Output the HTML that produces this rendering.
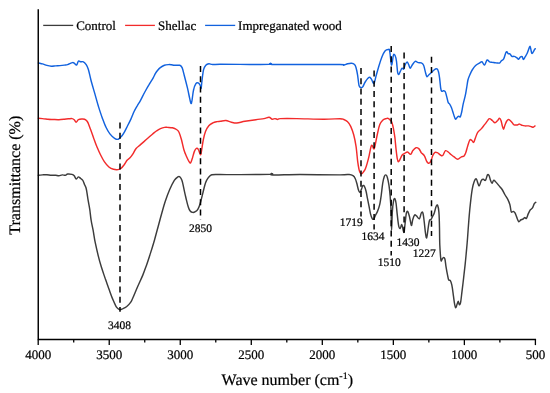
<!DOCTYPE html>
<html><head><meta charset="utf-8"><title>FTIR spectra</title>
<style>
html,body{margin:0;padding:0;background:#fff;}
body{width:550px;height:393px;overflow:hidden;}
svg{display:block;}
text{font-family:"Liberation Serif","Times New Roman",serif;fill:#000;stroke:#000;stroke-width:0.22px;text-rendering:geometricPrecision;}
</style></head><body>
<svg width="550" height="393" viewBox="0 0 550 393">
<rect width="550" height="393" fill="#fff"/>
<g fill="none" stroke-linejoin="round" stroke-linecap="round" stroke-width="1.45">
<path stroke="#1262de" d="M38.4 62.9C39.1 63.1 41.1 63.5 42.5 63.9C43.9 64.3 45.4 65.0 46.9 65.4C48.4 65.8 49.8 66.1 51.3 66.2C52.8 66.3 54.1 66.0 55.6 65.9C57.1 65.8 58.5 65.7 60.0 65.6C61.5 65.5 63.1 65.3 64.4 65.1C65.7 64.9 66.2 65.0 67.6 64.6C68.9 64.2 71.4 62.8 72.5 62.6C73.6 62.4 73.5 62.8 74.2 63.2C74.9 63.6 75.9 65.4 76.6 65.0C77.3 64.6 77.8 61.5 78.5 61.0C79.2 60.5 79.9 61.7 80.7 61.8C81.5 61.9 82.5 61.3 83.4 61.8C84.3 62.3 85.4 63.4 86.2 64.6C87.0 65.8 87.5 66.7 88.3 69.2C89.1 71.7 89.8 75.5 90.8 79.5C91.8 83.5 93.3 88.4 94.6 92.9C95.9 97.4 97.1 102.2 98.4 106.3C99.7 110.4 100.9 114.2 102.2 117.7C103.5 121.2 104.7 124.6 106.0 127.3C107.3 130.0 108.5 132.1 109.9 133.9C111.3 135.7 113.2 137.4 114.6 138.3C116.0 139.2 117.1 139.6 118.2 139.3C119.3 139.0 120.4 137.7 121.4 136.4C122.5 135.2 123.5 133.6 124.5 131.8C125.5 130.0 126.6 127.6 127.7 125.5C128.8 123.4 129.8 121.4 130.9 119.1C132.0 116.8 133.1 113.7 134.1 111.5C135.1 109.3 136.1 107.6 137.2 105.8C138.2 104.0 139.1 103.1 140.4 100.7C141.7 98.3 143.6 94.2 145.1 91.5C146.6 88.8 147.8 86.7 149.2 84.4C150.5 82.1 152.2 79.6 153.2 77.8C154.2 76.0 154.6 74.9 155.3 73.7C156.0 72.5 156.5 71.7 157.3 70.7C158.1 69.7 159.1 68.5 160.3 67.6C161.5 66.7 163.0 65.8 164.4 65.3C165.8 64.8 167.3 64.7 168.5 64.6C169.7 64.5 170.4 64.6 171.4 64.7C172.4 64.8 173.1 65.2 174.5 65.3C175.9 65.4 178.5 64.9 179.8 65.3C181.1 65.7 181.3 65.8 182.1 67.6C182.9 69.4 183.5 72.6 184.4 76.0C185.3 79.4 186.6 84.4 187.5 88.2C188.4 92.0 189.2 96.4 189.8 98.9C190.4 101.5 190.6 103.2 191.0 103.5C191.4 103.8 191.6 102.8 192.0 100.5C192.4 98.2 192.9 92.6 193.6 89.8C194.2 87.0 195.1 84.8 195.9 83.6C196.7 82.4 197.4 82.5 198.2 82.9C199.0 83.3 200.0 85.0 200.5 85.9C201.0 86.8 200.9 89.1 201.2 88.2C201.4 87.3 201.6 83.6 202.0 80.6C202.4 77.5 202.9 72.5 203.5 69.9C204.1 67.4 204.9 66.3 205.8 65.3C206.7 64.3 207.8 63.9 208.9 63.8C210.1 63.7 210.8 64.4 212.7 64.5C214.5 64.6 215.4 64.3 220.0 64.3C224.6 64.3 231.8 64.4 240.0 64.4C248.2 64.4 263.9 64.6 269.0 64.4C274.1 64.2 270.0 63.2 270.5 63.2C271.0 63.2 267.1 64.3 272.0 64.5C276.9 64.7 288.7 64.4 300.0 64.4C311.3 64.4 332.7 64.4 340.0 64.5C347.3 64.6 342.5 65.3 343.8 65.2C345.1 65.1 346.3 64.0 347.6 63.7C348.9 63.4 350.4 63.1 351.5 63.2C352.6 63.3 353.8 63.7 354.5 64.4C355.2 65.1 355.5 65.7 356.0 67.5C356.5 69.3 357.1 72.0 357.6 75.1C358.1 78.1 358.5 83.7 359.1 85.8C359.7 87.9 360.8 87.5 361.4 87.6C362.0 87.7 362.3 87.5 362.9 86.6C363.5 85.7 364.2 83.5 365.2 82.0C366.2 80.5 368.0 77.9 369.0 77.4C370.0 76.9 370.5 77.9 371.3 78.9C372.1 79.9 373.1 83.9 373.9 83.5C374.7 83.1 375.1 79.5 375.9 76.6C376.7 73.7 377.9 69.3 378.9 66.0C379.9 62.7 381.0 59.3 382.0 56.8C383.0 54.3 384.0 52.2 385.0 51.0C386.0 49.8 387.3 49.5 388.1 49.5C388.9 49.5 389.1 48.5 389.6 50.7C390.1 52.9 390.7 60.6 391.1 62.9C391.5 65.2 391.5 65.7 391.9 64.4C392.3 63.1 392.9 56.8 393.4 55.3C393.9 53.8 394.5 54.3 395.0 55.3C395.5 56.3 396.1 58.6 396.5 61.4C396.9 64.2 397.2 69.9 397.6 72.1C398.0 74.3 398.4 74.7 398.9 74.4C399.4 74.1 400.1 71.5 400.7 70.5C401.2 69.5 401.7 68.5 402.2 68.2C402.7 68.0 403.2 69.6 403.7 69.0C404.2 68.4 404.7 65.6 405.3 64.4C405.9 63.3 406.6 62.1 407.1 62.1C407.7 62.1 408.1 63.4 408.6 64.4C409.1 65.4 409.6 68.1 410.2 68.2C410.8 68.3 411.3 66.3 412.1 65.2C412.9 64.1 414.2 61.8 415.2 61.4C416.2 61.0 417.2 62.4 418.2 62.6C419.2 62.9 420.4 62.5 421.3 62.9C422.2 63.3 422.9 63.7 423.6 65.2C424.3 66.7 424.8 70.2 425.4 72.1C425.9 74.0 426.3 76.1 426.9 76.6C427.5 77.0 428.2 75.4 428.9 74.8C429.6 74.2 430.4 73.5 431.2 72.8C432.0 72.1 432.6 71.2 433.5 70.5C434.4 69.8 435.5 68.7 436.3 68.7C437.1 68.7 437.6 68.9 438.1 70.5C438.7 72.1 439.2 75.2 439.6 78.2C440.0 81.2 440.4 86.0 440.7 88.2C441.0 90.4 441.2 90.9 441.7 91.3C442.2 91.7 442.9 90.6 443.5 90.7C444.1 90.8 444.8 90.7 445.3 91.7C445.8 92.7 446.2 94.8 446.7 96.6C447.2 98.3 447.6 100.9 448.1 102.2C448.6 103.5 449.2 103.4 449.8 104.3C450.4 105.2 450.9 106.3 451.5 107.8C452.1 109.3 452.8 111.8 453.3 113.4C453.8 115.0 454.3 116.6 454.7 117.6C455.1 118.6 455.2 119.3 455.7 119.2C456.2 119.1 457.0 117.4 457.5 116.9C458.0 116.4 458.4 116.2 458.9 116.2C459.4 116.2 459.8 117.6 460.3 116.9C460.8 116.2 461.2 114.1 461.7 112.0C462.2 109.9 462.5 107.0 463.1 104.3C463.7 101.6 464.6 98.6 465.2 95.9C465.8 93.2 466.1 90.9 466.6 88.2C467.1 85.5 467.4 82.1 468.0 79.8C468.6 77.5 469.4 75.8 470.1 74.2C470.8 72.6 471.3 71.4 472.2 70.0C473.1 68.6 474.4 66.8 475.6 65.6C476.8 64.4 478.3 63.7 479.4 63.1C480.5 62.5 481.1 61.5 482.0 61.8C482.9 62.1 483.6 65.4 484.5 65.1C485.4 64.8 486.2 60.5 487.1 60.0C488.0 59.5 488.8 61.4 489.6 61.8C490.4 62.2 491.1 62.1 492.0 62.3C492.9 62.4 494.2 62.6 495.1 62.7C496.0 62.8 496.3 63.0 497.1 63.0C497.9 63.0 499.0 63.3 499.7 63.0C500.4 62.7 500.5 61.7 501.2 61.0C501.9 60.3 502.8 60.4 503.7 58.9C504.6 57.4 505.5 52.6 506.3 51.8C507.1 50.9 507.7 53.5 508.3 53.8C508.9 54.1 509.3 53.4 509.9 53.8C510.5 54.2 511.1 56.0 511.9 56.4C512.6 56.8 513.5 56.1 514.4 56.4C515.2 56.6 516.3 57.4 517.0 57.9C517.7 58.4 517.9 59.4 518.5 59.2C519.1 59.0 519.9 57.3 520.5 56.9C521.1 56.5 521.6 56.2 522.1 56.6C522.6 57.0 522.9 59.4 523.4 59.4C523.9 59.4 524.5 57.9 525.1 56.9C525.7 55.9 526.4 55.0 527.2 53.3C528.0 51.6 529.2 47.6 529.7 46.7C530.2 45.8 530.1 46.6 530.5 47.7C530.9 48.8 531.3 52.6 531.8 53.3C532.3 54.0 532.8 52.5 533.3 51.8C533.8 51.1 534.5 49.6 534.8 49.1C535.1 48.6 535.2 48.8 535.3 48.7"/>
<path stroke="#f22b2b" d="M38.4 118.3C39.1 118.3 40.9 118.4 42.5 118.6C44.1 118.8 46.2 119.0 48.0 119.2C49.8 119.4 51.6 119.4 53.4 119.5C55.2 119.6 57.1 119.8 58.9 119.7C60.7 119.7 62.8 119.4 64.4 119.2C66.0 119.0 67.4 118.9 68.7 118.8C70.0 118.7 71.1 118.4 72.0 118.6C72.9 118.8 73.5 119.1 74.2 119.7C74.9 120.3 75.4 122.2 76.1 122.2C76.8 122.2 77.5 120.2 78.5 119.7C79.5 119.2 80.8 119.1 81.8 119.0C82.8 118.9 83.7 118.9 84.5 119.2C85.3 119.5 86.1 120.1 86.7 120.8C87.3 121.5 87.7 122.0 88.3 123.4C88.9 124.9 89.7 127.1 90.6 129.5C91.5 131.9 92.6 135.1 93.6 137.9C94.6 140.7 95.5 143.5 96.7 146.3C97.9 149.1 99.2 152.2 100.5 154.8C101.8 157.4 102.9 159.6 104.3 161.6C105.7 163.6 107.4 165.7 108.9 167.0C110.4 168.3 112.0 168.9 113.5 169.3C115.0 169.7 116.8 169.8 118.1 169.6C119.4 169.4 120.2 169.0 121.2 168.2C122.2 167.4 123.2 166.0 124.2 164.7C125.2 163.3 126.3 161.2 127.3 160.1C128.3 158.9 129.0 158.9 130.0 157.8C131.0 156.7 132.1 155.2 133.1 153.6C134.1 152.0 134.9 149.9 136.1 148.5C137.3 147.1 138.8 146.1 140.2 144.9C141.5 143.7 142.8 142.6 144.2 141.4C145.5 140.2 146.9 139.0 148.3 137.8C149.7 136.6 151.1 135.3 152.4 134.2C153.8 133.1 155.1 131.9 156.4 131.0C157.8 130.1 159.1 129.2 160.5 128.6C161.9 128.0 163.4 127.6 164.6 127.4C165.8 127.2 166.1 127.3 167.4 127.4C168.7 127.5 170.9 127.5 172.4 127.8C173.9 128.2 175.4 128.8 176.5 129.5C177.6 130.2 178.2 130.6 179.0 132.3C179.8 134.0 180.7 136.9 181.5 139.8C182.3 142.7 183.1 146.9 183.9 149.7C184.7 152.4 185.6 154.4 186.4 156.3C187.2 158.2 188.2 160.2 188.9 161.3C189.6 162.4 190.1 163.3 190.6 162.9C191.1 162.5 191.6 160.7 192.2 158.8C192.8 156.9 193.7 153.1 194.4 151.4C195.1 149.7 195.8 148.7 196.4 148.4C197.1 148.1 197.8 148.6 198.3 149.4C198.9 150.2 199.3 152.1 199.7 153.0C200.1 153.9 200.4 155.2 200.7 154.7C201.0 154.1 201.3 152.2 201.7 149.7C202.1 147.2 202.7 142.8 203.3 139.8C203.9 136.8 204.6 133.8 205.5 131.5C206.4 129.2 207.6 127.1 208.8 125.7C210.0 124.3 211.5 123.6 212.9 122.9C214.3 122.2 215.8 121.9 217.0 121.6C218.2 121.3 218.9 121.5 220.4 121.3C221.9 121.1 224.1 120.3 225.9 120.5C227.7 120.7 229.5 121.8 231.3 122.2C233.1 122.6 234.5 123.2 236.8 123.0C239.1 122.8 241.8 121.8 245.0 121.3C248.2 120.8 252.7 120.2 255.9 119.7C259.1 119.2 261.8 119.0 264.0 118.6C266.2 118.2 267.6 117.2 269.0 117.3C270.4 117.4 271.2 119.0 272.2 119.2C273.2 119.4 274.1 118.6 275.0 118.6C275.9 118.6 276.8 119.4 277.7 119.4C278.6 119.4 277.2 118.7 280.4 118.6C283.6 118.5 289.4 118.5 296.7 118.6C304.0 118.7 316.8 119.2 324.0 119.2C331.2 119.2 336.7 118.7 340.0 118.7C343.3 118.8 342.5 119.0 343.8 119.5C345.1 120.0 346.5 120.6 347.6 121.8C348.8 123.0 349.7 124.2 350.7 126.4C351.7 128.6 352.8 131.5 353.7 134.8C354.6 138.1 355.3 141.7 356.0 146.2C356.7 150.7 357.2 157.8 357.7 161.7C358.2 165.5 358.6 167.4 359.0 169.3C359.4 171.2 359.9 172.2 360.3 172.9C360.7 173.7 361.1 174.0 361.6 173.8C362.1 173.6 362.9 172.7 363.5 171.8C364.1 171.0 364.8 170.2 365.4 168.7C366.0 167.2 366.7 165.1 367.3 162.9C367.9 160.7 368.6 158.1 369.2 155.3C369.8 152.6 370.6 148.0 371.1 146.4C371.6 144.8 372.0 145.3 372.4 145.7C372.8 146.1 373.3 148.8 373.7 148.9C374.1 149.0 374.3 148.9 374.9 146.4C375.5 143.9 376.6 137.6 377.4 134.0C378.2 130.4 378.8 127.1 379.7 124.8C380.6 122.5 381.7 121.3 382.7 120.3C383.7 119.3 384.9 119.0 385.8 118.7C386.7 118.4 387.3 118.1 388.1 118.4C388.9 118.7 389.8 119.7 390.4 120.3C391.0 120.9 391.3 120.9 391.8 122.2C392.3 123.5 392.9 125.8 393.4 128.3C393.9 130.9 394.4 133.9 394.9 137.5C395.3 141.1 395.7 146.1 396.1 149.7C396.5 153.3 396.9 156.9 397.3 158.9C397.7 160.9 398.0 161.8 398.4 161.9C398.8 162.0 399.3 160.8 399.9 159.6C400.5 158.4 401.4 156.0 402.2 155.0C403.0 154.0 403.6 154.0 404.5 153.5C405.4 153.0 406.6 151.9 407.6 152.0C408.6 152.1 409.7 154.6 410.6 154.3C411.5 154.1 412.0 151.6 412.9 150.5C413.8 149.4 415.0 148.0 416.0 147.7C417.0 147.4 418.1 148.1 419.0 148.9C419.9 149.7 420.4 151.5 421.3 152.7C422.2 153.8 423.5 154.4 424.4 155.8C425.3 157.2 426.0 159.9 426.6 161.1C427.2 162.3 427.7 162.8 428.2 163.1C428.7 163.4 429.2 163.1 429.7 162.7C430.2 162.2 430.7 161.6 431.2 160.4C431.7 159.2 432.1 157.1 432.7 155.8C433.3 154.5 434.2 152.9 435.0 152.4C435.8 151.9 436.4 152.3 437.3 152.7C438.2 153.1 439.5 154.5 440.4 155.0C441.3 155.5 441.8 156.2 442.7 155.5C443.6 154.8 444.5 151.2 445.5 150.7C446.5 150.2 448.0 151.9 448.8 152.5C449.6 153.1 449.6 153.4 450.5 154.1C451.4 154.8 452.9 156.0 454.1 156.8C455.3 157.7 456.5 159.2 457.7 159.2C458.9 159.2 460.3 157.4 461.4 156.8C462.5 156.2 463.4 156.7 464.1 155.9C464.9 155.2 465.3 154.0 465.9 152.3C466.5 150.6 467.0 148.0 467.7 145.9C468.4 143.8 469.2 140.8 469.9 139.9C470.6 139.0 471.3 140.1 471.9 140.5C472.5 140.9 473.1 142.8 473.7 142.3C474.3 141.8 474.8 139.4 475.5 137.7C476.2 136.0 476.7 133.8 477.7 132.3C478.7 130.8 480.2 130.0 481.4 128.6C482.6 127.2 483.9 125.4 485.0 124.1C486.1 122.8 486.9 121.4 487.7 120.5C488.4 119.6 488.7 118.6 489.5 118.6C490.3 118.6 491.4 119.8 492.3 120.5C493.2 121.2 494.1 122.8 495.0 122.8C495.9 122.8 496.9 121.2 497.7 120.5C498.4 119.8 498.9 118.3 499.5 118.3C500.1 118.3 500.5 119.2 501.0 120.5C501.5 121.8 501.9 124.5 502.3 125.9C502.7 127.4 503.1 129.3 503.5 129.2C503.9 129.0 504.4 126.4 505.0 125.0C505.6 123.6 506.2 121.9 506.8 121.0C507.4 120.1 507.8 119.4 508.6 119.5C509.4 119.6 510.5 120.9 511.4 121.7C512.2 122.5 512.8 124.0 513.7 124.6C514.6 125.1 515.8 125.1 516.8 125.0C517.8 124.9 518.6 124.0 519.5 124.1C520.4 124.2 521.4 125.1 522.3 125.4C523.2 125.7 524.0 125.8 525.0 125.9C526.0 126.0 527.5 125.8 528.6 125.9C529.7 126.1 530.6 126.6 531.4 126.8C532.2 127.0 532.6 127.3 533.2 127.2C533.8 127.1 534.7 126.1 535.0 125.9"/>
<path stroke="#3c3c3c" d="M38.4 175.3C39.1 175.2 41.1 175.0 42.5 174.9C43.9 174.8 45.4 174.6 46.9 174.7C48.4 174.8 49.8 175.2 51.3 175.3C52.8 175.4 54.3 175.2 55.6 175.3C56.9 175.4 57.8 175.9 58.9 175.8C60.0 175.7 61.1 175.0 62.2 174.9C63.3 174.8 64.5 175.5 65.4 175.3C66.3 175.2 66.5 174.2 67.6 174.0C68.7 173.8 70.9 174.1 72.0 174.4C73.1 174.7 73.5 175.0 74.2 175.8C74.9 176.6 75.6 178.9 76.3 179.1C77.0 179.3 77.6 177.0 78.3 176.9C79.0 176.8 79.9 177.9 80.7 178.5C81.5 179.1 82.3 179.5 82.9 180.5C83.5 181.5 84.0 183.3 84.5 184.5C85.0 185.7 85.5 186.1 86.0 187.8C86.5 189.5 87.0 192.8 87.3 194.9C87.6 197.0 87.7 197.8 88.1 200.2C88.5 202.6 89.3 206.3 89.8 209.6C90.3 212.9 90.5 216.6 91.1 220.0C91.6 223.4 92.4 226.5 93.1 230.2C93.8 233.9 94.3 238.2 95.2 242.4C96.1 246.6 97.2 251.5 98.2 255.6C99.2 259.7 100.1 262.9 101.3 266.8C102.5 270.7 104.1 275.2 105.4 279.1C106.8 283.0 108.2 287.1 109.4 290.3C110.6 293.6 111.3 295.9 112.5 298.6C113.7 301.4 115.1 305.0 116.3 306.8C117.5 308.6 118.4 309.1 119.4 309.5C120.4 309.9 121.2 309.3 122.4 308.9C123.6 308.4 125.1 307.9 126.5 306.8C127.9 305.7 129.6 303.8 130.6 302.4C131.6 301.0 131.4 301.1 132.6 298.5C133.8 295.9 136.0 290.4 137.7 286.5C139.4 282.6 141.3 278.7 142.8 275.1C144.3 271.5 145.3 268.5 146.6 264.9C147.9 261.3 149.1 257.4 150.4 253.4C151.7 249.4 153.0 245.1 154.3 240.7C155.6 236.2 156.8 231.4 158.1 226.7C159.4 222.0 160.7 216.9 161.9 212.7C163.1 208.5 163.9 205.4 165.2 201.5C166.5 197.6 168.2 193.0 169.7 189.5C171.2 186.0 173.0 182.4 174.3 180.3C175.7 178.2 176.9 177.5 177.8 176.9C178.8 176.3 179.3 176.4 180.0 177.0C180.7 177.6 181.4 178.8 181.9 180.2C182.4 181.6 182.8 183.4 183.2 185.3C183.6 187.2 184.0 189.2 184.5 191.6C185.0 194.0 185.8 197.3 186.4 199.9C187.0 202.5 187.7 205.1 188.3 206.9C188.9 208.8 189.5 210.1 190.2 211.0C190.9 211.9 191.8 212.3 192.7 212.4C193.5 212.5 194.5 212.2 195.3 211.7C196.2 211.2 197.1 210.5 197.8 209.4C198.5 208.3 199.2 206.5 199.7 205.0C200.2 203.5 200.5 202.5 201.0 200.5C201.5 198.5 202.3 195.4 202.9 192.9C203.5 190.4 204.2 187.4 204.8 185.3C205.4 183.2 205.9 181.7 206.7 180.2C207.4 178.7 208.5 177.3 209.3 176.4C210.2 175.5 210.8 175.1 211.8 174.8C212.9 174.5 213.1 174.4 215.6 174.4C218.1 174.4 222.6 174.6 226.7 174.6C230.8 174.6 232.8 174.6 240.0 174.6C247.2 174.6 264.8 174.6 270.0 174.4C275.2 174.2 271.0 173.3 271.5 173.4C272.0 173.5 268.2 174.8 273.0 175.0C277.8 175.2 288.8 174.5 300.0 174.5C311.2 174.5 331.8 174.9 340.0 174.9C348.2 174.9 347.0 174.4 349.2 174.5C351.4 174.6 352.0 175.0 353.0 175.7C354.0 176.4 354.7 177.4 355.3 178.7C355.9 180.0 356.3 181.5 356.8 183.3C357.3 185.1 357.8 187.9 358.3 189.4C358.8 190.9 359.3 192.5 359.8 192.5C360.3 192.5 360.9 190.6 361.4 189.4C361.9 188.2 362.4 186.1 362.9 185.6C363.4 185.1 363.9 185.5 364.4 186.4C364.9 187.3 365.5 189.0 366.0 191.0C366.5 193.0 367.0 196.1 367.5 198.6C368.0 201.1 368.5 203.6 369.0 206.2C369.5 208.8 370.0 211.9 370.5 213.9C371.0 215.9 371.6 217.5 372.1 218.4C372.6 219.3 373.1 219.6 373.6 219.2C374.1 218.8 374.5 217.4 375.1 216.1C375.7 214.8 376.6 213.5 377.4 211.6C378.2 209.7 379.1 207.4 379.7 204.7C380.3 202.0 380.7 199.1 381.2 195.5C381.7 191.9 382.2 186.5 382.7 183.3C383.2 180.1 383.8 177.9 384.3 176.5C384.8 175.1 385.3 174.8 385.8 174.9C386.3 175.0 386.8 175.5 387.3 177.2C387.8 178.8 388.4 181.8 388.9 184.8C389.4 187.9 389.7 191.0 390.1 195.5C390.5 200.0 390.9 206.2 391.1 212.0C391.4 217.8 391.4 230.0 391.6 230.0C391.8 230.0 392.0 217.0 392.3 212.1C392.6 207.2 393.2 202.8 393.6 200.6C394.0 198.4 394.5 198.2 394.9 198.7C395.3 199.2 395.7 200.6 396.1 203.5C396.5 206.4 396.9 212.1 397.4 215.9C397.8 219.7 398.3 224.3 398.8 226.4C399.3 228.5 399.8 228.6 400.3 228.3C400.8 228.0 401.3 224.2 401.8 224.5C402.3 224.8 402.8 228.9 403.2 230.2C403.6 231.5 403.8 233.2 404.1 232.1C404.4 231.0 404.7 226.7 405.1 223.5C405.5 220.3 405.9 215.0 406.4 213.0C406.9 211.0 407.4 211.1 407.9 211.7C408.4 212.3 408.9 214.5 409.5 216.8C410.1 219.1 410.9 224.9 411.4 225.4C411.9 225.9 412.2 221.4 412.7 219.7C413.2 217.9 414.0 215.5 414.6 214.9C415.2 214.3 415.7 215.2 416.5 215.9C417.3 216.6 418.6 219.3 419.4 218.8C420.2 218.3 420.7 214.0 421.3 213.0C421.9 212.0 422.4 211.6 422.9 213.0C423.4 214.4 423.8 218.2 424.2 221.6C424.6 224.9 425.1 230.4 425.5 233.1C425.9 235.8 426.3 238.5 426.7 237.9C427.1 237.3 427.6 232.2 428.0 229.3C428.4 226.4 428.9 222.3 429.4 220.7C429.9 219.1 430.4 220.3 430.9 219.7C431.4 219.0 431.8 217.9 432.4 216.8C433.0 215.7 433.7 214.8 434.3 213.0C434.9 211.2 435.6 207.6 436.2 206.3C436.8 205.0 437.2 204.4 437.6 205.4C438.1 206.4 438.6 208.3 438.9 212.1C439.2 215.9 439.4 222.5 439.5 228.0C439.6 233.5 439.6 240.3 439.8 245.0C440.0 249.7 440.3 253.3 440.5 256.0C440.7 258.7 440.8 260.5 441.1 261.0C441.4 261.5 441.8 259.6 442.2 259.0C442.6 258.4 443.2 257.5 443.6 257.5C444.1 257.5 444.5 257.5 444.9 259.0C445.3 260.5 445.6 264.1 446.0 266.7C446.4 269.2 446.9 272.1 447.4 274.3C447.8 276.5 448.2 279.0 448.7 280.0C449.2 281.0 449.7 279.6 450.2 280.4C450.7 281.2 451.3 282.6 451.8 284.8C452.3 287.0 452.7 290.3 453.1 293.3C453.5 296.3 454.0 300.5 454.4 302.9C454.8 305.3 455.2 307.3 455.6 307.6C456.0 307.9 456.5 305.9 456.9 304.8C457.3 303.8 457.8 301.3 458.2 301.3C458.6 301.3 459.0 304.7 459.4 304.8C459.8 304.9 460.3 304.1 460.7 301.9C461.1 299.7 461.5 295.4 462.0 291.4C462.5 287.4 463.1 282.5 463.6 278.1C464.1 273.7 464.6 269.2 465.1 264.8C465.6 260.4 466.0 255.5 466.4 251.4C466.8 247.3 467.1 243.5 467.4 240.0C467.7 236.5 467.8 234.2 468.1 230.2C468.4 226.2 468.8 220.7 469.2 215.9C469.6 211.2 470.1 206.1 470.6 201.7C471.1 197.3 471.6 192.8 472.2 189.4C472.8 186.0 473.6 183.1 474.3 181.3C475.0 179.5 475.7 178.5 476.3 178.8C476.9 179.1 477.4 182.1 477.9 183.3C478.4 184.5 478.7 186.3 479.3 185.8C479.9 185.3 480.7 181.4 481.4 180.3C482.1 179.2 482.7 179.3 483.4 179.3C484.1 179.3 484.8 181.1 485.5 180.3C486.2 179.6 486.9 175.6 487.5 174.8C488.1 174.0 488.6 174.7 489.1 175.6C489.6 176.5 490.0 179.0 490.5 180.3C491.0 181.6 491.5 183.3 492.0 183.3C492.5 183.3 493.0 180.6 493.6 180.3C494.2 180.0 494.8 180.8 495.6 181.7C496.5 182.5 497.7 184.2 498.7 185.4C499.7 186.6 500.8 187.5 501.8 189.0C502.8 190.5 503.8 192.7 504.8 194.5C505.8 196.3 507.0 197.9 507.9 199.6C508.8 201.3 509.3 202.7 509.9 204.7C510.5 206.7 510.7 210.7 511.3 211.8C511.9 212.9 512.8 211.2 513.4 211.4C514.0 211.6 514.5 212.0 515.0 212.9C515.5 213.8 516.0 215.5 516.6 216.9C517.2 218.3 518.0 221.1 518.7 221.6C519.4 222.1 520.0 220.4 520.7 220.0C521.4 219.6 522.4 219.4 523.1 219.0C523.8 218.6 524.2 217.6 524.8 217.5C525.3 217.4 525.8 219.0 526.4 218.4C527.0 217.8 527.6 215.3 528.2 213.9C528.9 212.5 529.6 210.8 530.3 209.8C531.0 208.9 531.6 209.2 532.3 208.2C533.0 207.2 533.7 204.7 534.3 203.7C534.9 202.7 535.5 202.5 535.8 202.3"/>
</g>
<g stroke="#000" stroke-width="1.5" stroke-dasharray="5.9 4.35">
<line x1="120.0" y1="122.5" x2="120.0" y2="311.8"/>
<line x1="200.5" y1="66.0" x2="200.5" y2="220.0"/>
<line x1="361.0" y1="68.0" x2="361.0" y2="216.5"/>
<line x1="374.1" y1="70.5" x2="374.1" y2="229.5"/>
<line x1="391.2" y1="46.0" x2="391.2" y2="255.5"/>
<line x1="404.1" y1="52.5" x2="404.1" y2="235.0"/>
<line x1="431.5" y1="56.8" x2="431.5" y2="236.0"/>
</g>
<g stroke="#000" stroke-width="1.3" fill="none">
<path stroke-width="1.45" d="M38.25 9.2V339.5H536.1"/>
<line x1="38.20" y1="339.5" x2="38.20" y2="345.1"/><line x1="73.71" y1="339.5" x2="73.71" y2="342.5"/><line x1="109.23" y1="339.5" x2="109.23" y2="345.1"/><line x1="144.74" y1="339.5" x2="144.74" y2="342.5"/><line x1="180.26" y1="339.5" x2="180.26" y2="345.1"/><line x1="215.77" y1="339.5" x2="215.77" y2="342.5"/><line x1="251.29" y1="339.5" x2="251.29" y2="345.1"/><line x1="286.80" y1="339.5" x2="286.80" y2="342.5"/><line x1="322.31" y1="339.5" x2="322.31" y2="345.1"/><line x1="357.83" y1="339.5" x2="357.83" y2="342.5"/><line x1="393.34" y1="339.5" x2="393.34" y2="345.1"/><line x1="428.86" y1="339.5" x2="428.86" y2="342.5"/><line x1="464.37" y1="339.5" x2="464.37" y2="345.1"/><line x1="499.89" y1="339.5" x2="499.89" y2="342.5"/><line x1="535.40" y1="339.5" x2="535.40" y2="345.1"/>
</g>
<g font-size="13" text-anchor="middle">
<text x="38.20" y="358.8">4000</text><text x="109.23" y="358.8">3500</text><text x="180.26" y="358.8">3000</text><text x="251.29" y="358.8">2500</text><text x="322.31" y="358.8">2000</text><text x="393.34" y="358.8">1500</text><text x="464.37" y="358.8">1000</text><text x="535.40" y="358.8">500</text>
</g>
<g font-size="11.5" text-anchor="middle">
<text x="119.4" y="328.6">3408</text>
<text x="200.5" y="231.7">2850</text>
<text x="351.3" y="225.8">1719</text>
<text x="373.1" y="240.4">1634</text>
<text x="389.2" y="265.7">1510</text>
<text x="407.9" y="245.6">1430</text>
<text x="424.3" y="256.6">1227</text>
</g>
<g stroke-width="1.3">
<line x1="43.2" y1="25.4" x2="73.2" y2="25.4" stroke="#3c3c3c"/>
<line x1="125.1" y1="25.4" x2="154.9" y2="25.4" stroke="#f22b2b"/>
<line x1="205.1" y1="25.4" x2="235.2" y2="25.4" stroke="#1262de"/>
</g>
<g font-size="13">
<text x="76.2" y="30.2">Control</text>
<text x="158" y="30.2">Shellac</text>
<text x="238.1" y="30.2">Impreganated wood</text>
</g>
<text font-size="16" x="287.3" y="385.2" text-anchor="middle">Wave number (cm<tspan font-size="10" dy="-6">-1</tspan><tspan dy="6">)</tspan></text>
<text font-size="16" transform="translate(19.7 175.2) rotate(-90)" text-anchor="middle">Transmittance (%)</text>
</svg>
</body></html>
